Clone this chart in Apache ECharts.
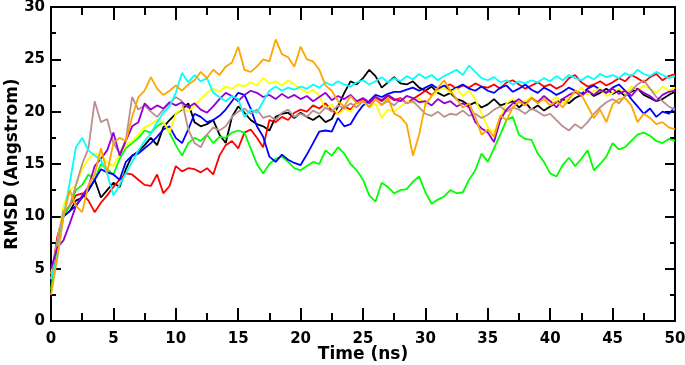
<!DOCTYPE html>
<html>
<head>
<meta charset="utf-8">
<script src="https://cdn.jsdelivr.net/npm/echarts@6/dist/echarts.min.js"></script>
<style>
  html, body { margin: 0; padding: 0; background: #fff; }
  #chart { width: 685px; height: 365px; }
</style>
</head>
<body>
<div id="chart"></div>
<script>
// sampling step of the trajectories (ns)
const step = 0.5;

// RMSD (Angstrom) per replica, one value every 0.5 ns from 0 to 50 ns
const black = [
  4.0, 7.5, 10.0, 10.5, 11.5, 11.8, 12.5, 13.5, 11.8, 12.5,
  13.2, 12.8, 14.5, 15.8, 16.2, 16.8, 17.5, 16.8, 18.5, 19.2,
  19.8, 20.2, 20.8, 19.0, 18.6, 18.8, 19.2, 17.8, 17.0, 19.5,
  20.5, 19.9, 19.2, 18.8, 18.6, 18.2, 19.5, 19.8, 19.9, 19.4,
  19.9, 19.5, 19.2, 19.6, 19.0, 19.3, 20.5, 21.8, 22.9, 22.6,
  23.2, 24.0, 23.4, 22.3, 22.8, 23.3, 22.7, 22.6, 22.9, 22.3,
  22.0, 22.4, 21.8, 21.5, 21.8, 21.2, 21.0, 20.6, 20.9, 20.4,
  20.7, 21.2, 20.6, 20.8, 21.0, 20.4, 20.9, 20.2, 20.6, 20.1,
  20.5, 20.9, 21.2, 20.8, 21.3, 21.6, 22.0, 21.5, 21.8, 22.2,
  21.7, 22.0, 21.5, 21.9, 22.2, 21.6, 21.3, 21.0, 21.2, 21.6,
  21.9
];
const red = [
  4.0, 8.0, 10.2, 11.0, 12.0, 12.2, 11.5, 10.4, 11.3, 12.0,
  12.8, 13.5, 14.1, 14.0, 13.5, 13.0, 12.9, 14.0, 12.2, 12.9,
  14.8, 14.3, 14.6, 14.5, 14.2, 14.6, 14.0, 15.8, 16.8, 17.2,
  16.5, 18.0, 18.3, 17.5, 16.6, 19.2, 19.0, 19.5, 19.2, 19.9,
  20.2, 20.0, 20.6, 20.3, 20.8, 20.1, 19.8, 20.5, 20.2, 20.9,
  21.2, 20.8, 21.4, 21.0, 21.5, 21.1, 21.3, 20.8, 21.2, 21.6,
  22.0, 21.6, 22.1, 22.4, 22.6, 22.2, 22.5, 22.3, 22.7, 22.4,
  22.3, 22.6, 22.2, 22.8, 23.0, 22.6, 22.2, 22.5, 22.8, 22.4,
  22.6, 22.2, 22.5, 23.2, 23.5, 22.8, 22.4, 22.6, 22.9, 22.5,
  22.8, 23.2, 22.9, 23.5, 23.2, 22.8, 23.3, 23.6, 23.0, 23.4,
  23.6
];
const green = [
  3.0, 7.0, 10.0, 11.0, 12.5, 13.0, 14.0, 13.5, 15.0, 14.5,
  14.0, 15.5, 16.5, 17.0, 17.5, 18.2, 18.0, 18.6, 19.0, 18.0,
  16.8, 15.8, 17.0, 17.5, 17.2, 17.8, 17.0, 17.6, 17.5, 18.0,
  18.2, 18.0, 16.5, 15.0, 14.1, 15.0, 15.5, 15.7, 15.2, 14.6,
  14.4, 14.8, 15.2, 15.0, 16.3, 15.8, 16.6, 16.0, 15.0, 14.4,
  13.5, 12.0, 11.4, 13.2, 12.8, 12.2, 12.5, 12.6, 13.3, 13.8,
  12.3, 11.2, 11.6, 11.9, 12.5, 12.2, 12.3, 13.5, 14.4, 16.0,
  15.2, 16.5, 17.8, 19.2, 19.5, 17.8, 17.4, 17.3, 16.0, 15.2,
  14.1, 13.8, 14.9, 15.6, 14.8, 15.5, 16.3, 14.4, 15.0, 15.7,
  17.0, 16.4, 16.6, 17.2, 17.8, 18.0, 17.7, 17.2, 17.0, 17.4,
  17.2
];
const blue = [
  4.0, 7.5, 10.0, 10.5, 11.0, 11.8, 12.5, 13.5, 14.5, 14.2,
  14.0, 13.5, 15.2, 15.8, 16.0, 16.5, 17.0, 17.6, 18.3, 18.6,
  17.5, 17.0, 18.3, 19.8, 19.5, 19.0, 19.2, 19.6, 20.2, 21.0,
  21.8, 21.6, 20.3, 18.6, 17.6, 15.7, 15.2, 15.9, 15.4, 15.1,
  14.9, 15.9, 17.0, 18.1, 18.2, 18.1, 19.4, 18.6, 18.8, 19.8,
  20.6, 21.0, 21.6, 21.4, 21.7, 21.9, 21.9, 22.1, 22.3, 22.0,
  22.3, 22.6, 22.2, 22.5, 22.0, 22.3, 22.6, 22.2, 22.0, 22.4,
  22.0, 21.8, 22.3, 22.5, 21.9, 22.2, 22.6, 22.1, 21.8, 22.3,
  22.0, 21.6, 21.9, 22.3, 22.0, 21.7, 22.2, 22.5, 22.1, 21.8,
  22.3, 22.6, 22.0, 21.2, 20.5, 19.8, 20.3, 19.5, 20.0, 19.8,
  20.4
];
const yellow = [
  4.5, 7.5, 11.0, 12.5, 13.0, 14.5, 15.5, 16.0, 15.8, 15.2,
  14.8, 16.0, 16.8, 17.2, 17.8, 18.5, 18.8, 19.2, 19.0, 18.0,
  19.8, 20.3, 20.0, 20.6, 21.2, 21.8, 22.2, 21.9, 22.4, 22.2,
  22.6, 22.4, 22.8, 22.5, 23.2, 22.7, 22.9, 22.5, 23.0, 22.6,
  22.2, 21.8, 22.1, 21.5, 20.2, 20.7, 19.7, 20.3, 20.0, 20.8,
  21.0, 20.4, 20.8, 19.4, 20.2, 20.0, 20.5, 21.0, 20.8, 21.3,
  20.7, 21.5, 22.0, 22.3, 21.8, 22.2, 21.5, 22.0, 21.2, 19.8,
  18.5, 18.0, 19.5, 20.8, 21.2, 20.8, 21.0, 21.4, 20.9, 21.2,
  21.0, 21.4, 20.8, 21.3, 21.8, 22.3, 21.6, 22.0, 22.2, 21.5,
  21.8, 22.2, 21.7, 22.4, 22.0, 22.5, 22.2, 21.8, 22.4, 22.0,
  22.3
];
const brown = [
  4.0, 7.5, 10.5, 11.0, 13.0, 15.0, 16.5, 21.0, 19.0, 19.3,
  17.0, 16.0, 17.3, 21.4, 20.2, 20.6, 20.0, 19.5, 20.2, 20.8,
  21.4, 21.0, 18.3, 17.0, 16.6, 17.8, 18.5, 18.2, 18.6, 19.5,
  20.0, 20.3, 19.8, 20.2, 19.4, 19.6, 19.2, 19.9, 20.2, 19.5,
  19.8, 19.5, 20.1, 19.8, 20.4, 20.0, 20.6, 20.3, 20.8, 20.4,
  21.0, 20.5, 21.2, 20.7, 21.0, 20.6, 21.2, 20.8, 21.0, 20.4,
  19.8, 19.6, 20.0, 19.5, 19.8, 19.7, 20.1, 19.6, 19.8, 19.4,
  19.7, 20.2, 20.5, 20.0, 20.4, 20.2, 19.8, 20.3, 20.0, 19.6,
  19.8, 19.2, 18.6, 18.2, 18.8, 18.4, 19.0, 19.8, 20.4, 20.9,
  21.2, 20.8, 21.5, 22.0, 22.6, 23.0, 22.2, 21.4, 21.0, 20.5,
  20.2
];
const violet = [
  5.0, 7.0, 7.7, 9.3, 11.0, 12.0, 12.8, 14.8, 15.5, 16.3,
  18.0, 15.8, 17.2, 18.6, 19.0, 20.8, 20.2, 20.6, 20.3, 20.9,
  20.6, 20.9, 20.4, 20.8, 20.2, 19.9, 20.5, 21.2, 21.8, 21.5,
  21.0, 21.6, 22.0, 21.8, 21.4, 21.6, 21.2, 21.7, 21.3, 21.6,
  21.2, 21.5, 21.0, 21.4, 21.8, 21.1, 21.5, 21.2, 21.6, 21.0,
  21.3, 20.9, 21.4, 21.1, 21.6, 21.2, 21.0, 21.5, 21.3, 20.9,
  21.0, 20.6, 21.2, 20.8, 21.0, 20.5, 20.8, 20.4, 19.0, 18.4,
  18.0, 17.1, 19.2, 20.2, 20.8, 21.2, 20.7, 21.3, 20.9, 21.5,
  21.0, 20.4, 21.2, 21.6, 21.9, 21.5, 22.0, 21.6, 22.1, 21.8,
  22.2, 21.7, 22.0, 21.5, 22.2, 21.8, 21.5, 21.0, 21.6, 21.9,
  22.0
];
const cyan = [
  4.0, 6.0, 10.0, 13.2, 16.6, 17.5, 16.3, 15.8, 15.4, 14.1,
  12.0, 13.0, 14.1, 15.2, 16.3, 17.2, 17.9, 19.0, 19.9, 20.5,
  21.8, 23.7, 22.8, 23.5, 22.9, 23.2, 21.8, 21.4, 21.0, 21.5,
  21.2, 19.5, 20.2, 19.9, 21.0, 22.0, 22.4, 22.0, 22.3, 22.1,
  22.4, 22.2, 22.6, 22.3, 22.8, 22.5, 22.9, 22.6, 22.4, 22.8,
  23.0, 22.6, 22.9, 23.3, 22.8, 23.2, 22.9, 23.4, 23.1, 23.6,
  23.2, 23.5, 23.0, 23.4, 23.7, 24.0, 23.5, 24.4, 23.8, 23.2,
  23.0, 23.3, 22.8, 23.0, 22.6, 22.9, 22.7, 23.0, 22.8, 23.2,
  22.9, 23.4, 23.0, 23.5, 23.2, 23.0, 23.4, 23.1, 23.6, 23.3,
  23.5, 23.2, 23.7, 23.4, 24.0, 23.6, 23.4, 23.8, 23.5, 23.2,
  23.4
];
const orange = [
  2.5, 6.0, 10.0, 12.5, 11.0, 10.4, 13.0, 14.0, 16.5, 14.2,
  17.0, 17.5, 17.2, 19.5, 21.4, 22.0, 23.3, 22.2, 21.6, 22.0,
  22.5, 22.0, 22.6, 23.0, 23.8, 23.2, 24.0, 23.5, 24.3, 24.7,
  26.2, 24.0, 23.8, 24.3, 25.0, 24.8, 26.9, 25.5, 25.2, 24.3,
  26.2, 25.0, 24.8, 24.0, 22.5, 22.0, 21.0, 20.5, 21.5, 20.8,
  21.0, 20.4, 21.2, 20.6, 21.3, 19.8, 19.5, 18.8, 15.8, 17.8,
  20.7, 21.5, 22.3, 23.0, 22.0, 21.2, 20.4, 20.8, 19.5, 17.8,
  18.3, 17.6, 19.6, 19.2, 20.4, 21.0, 20.6, 21.3, 20.8, 21.2,
  20.6, 21.0, 20.4, 21.2, 22.0, 21.6, 20.5, 19.4, 20.2, 19.0,
  20.7, 21.2, 21.3, 20.6, 19.0, 19.8, 19.4, 18.8, 19.0, 18.5,
  18.3
];

const seriesList = [
  { name: 'black', data: black, color: '#000000' },
  { name: 'red', data: red, color: '#ff0000' },
  { name: 'green', data: green, color: '#00ff00' },
  { name: 'blue', data: blue, color: '#0000ff' },
  { name: 'yellow', data: yellow, color: '#ffff00' },
  { name: 'brown', data: brown, color: '#bc8f8f' },
  { name: 'violet', data: violet, color: '#9400d3' },
  { name: 'cyan', data: cyan, color: '#00ffff' },
  { name: 'orange', data: orange, color: '#ffa500' }
];

const font = 'DejaVu Sans';
const tickFont = { fontFamily: font, fontWeight: 'bold', fontSize: 15, color: '#000' };
const nameFont = { fontFamily: font, fontWeight: 'bold', fontSize: 17, color: '#000' };

// one side of the box: ticks point inwards, labels only on bottom/left
function frameAxis(pos, showLabel, major, minor, extra) {
  return Object.assign({
    type: 'value',
    position: pos,
    min: 0,
    interval: 5,
    nameMoveOverlap: false,
    axisLine: { show: true, onZero: false, lineStyle: { color: '#000', width: 2 } },
    axisTick: { show: true, inside: true, length: major, lineStyle: { color: '#000', width: 2 } },
    minorTick: { show: true, splitNumber: 2, length: minor, lineStyle: { color: '#000', width: 2 } },
    splitLine: { show: false },
    axisLabel: Object.assign({ show: showLabel, margin: pos === 'bottom' ? 11 : 6 }, tickFont)
  }, extra);
}

const chart = echarts.init(document.getElementById('chart'), null, { renderer: 'canvas' });
chart.setOption({
  animation: false,
  backgroundColor: '#fff',
  grid: { left: 51, right: 10, top: 7, bottom: 44, outerBoundsMode: 'none' },
  xAxis: [
    frameAxis('bottom', true, 13, 8, {
      max: 50,
      name: 'Time (ns)',
      nameLocation: 'middle',
      nameGap: 25,
      nameTextStyle: nameFont
    }),
    frameAxis('top', false, 13, 8, { max: 50 })
  ],
  yAxis: [
    frameAxis('left', true, 10, 5, {
      max: 30,
      name: 'RMSD (Angstrom)',
      nameLocation: 'middle',
      nameGap: 30,
      nameTextStyle: nameFont
    }),
    frameAxis('right', false, 10, 5, { max: 30 })
  ],
  series: seriesList.map(s => ({
    name: s.name,
    type: 'line',
    xAxisIndex: 0,
    yAxisIndex: 0,
    showSymbol: false,
    silent: true,
    lineStyle: { color: s.color, width: 1.8 },
    data: s.data.map((v, i) => [i * step, v])
  }))
});
</script>
</body>
</html>
